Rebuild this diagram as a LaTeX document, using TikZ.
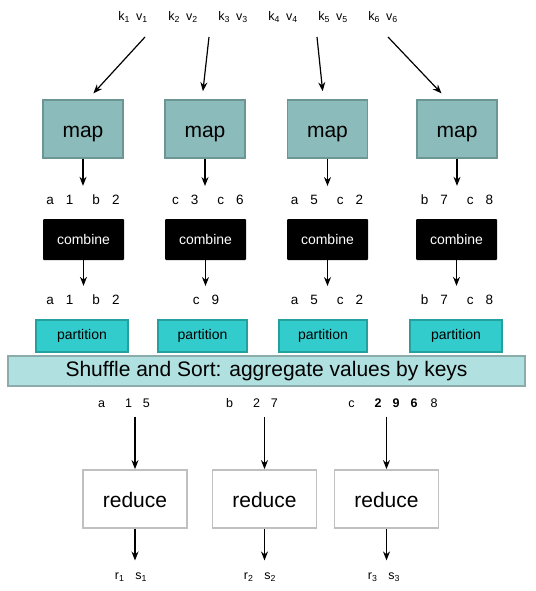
\documentclass[tikz,border=0pt]{standalone}
\usepackage{fontspec}
\setmainfont{Liberation Sans}
\usepackage{tikz}
\usetikzlibrary{arrows.meta, positioning}
\definecolor{mapfill}{RGB}{139, 187, 186}
\definecolor{mapline}{RGB}{108, 150, 148}
\definecolor{partfill}{RGB}{51, 204, 204}
\definecolor{partline}{RGB}{36, 160, 158}
\definecolor{shufill}{RGB}{176, 224, 224}
\definecolor{shuline}{RGB}{140, 172, 172}
\definecolor{redline}{RGB}{192, 192, 192}

\newcommand{\kvpair}[2]{#1\hspace{12pt}#2}

\begin{document}
\begin{tikzpicture}[
    x=1pt, y=-1pt,
    mapbox/.style={rectangle, draw=mapline, line width=1.6pt, fill=mapfill,
                   minimum width=80pt, minimum height=58pt, text height=16pt, text depth=0pt,
                   font=\fontsize{21}{24}\selectfont},
    combox/.style={rectangle, fill=black, rounded corners=1pt, text=white,
                   minimum width=81pt, minimum height=41pt, font=\fontsize{14}{16}\selectfont},
    partbox/.style={rectangle, draw=partline, line width=1.6pt, fill=partfill,
                    minimum width=90pt, minimum height=32pt, font=\fontsize{14}{16}\selectfont},
    redbox/.style={rectangle, draw=redline, line width=1.8pt, fill=white,
                   minimum width=104pt, minimum height=58pt, text height=16pt, text depth=0pt,
                   font=\fontsize{21}{24}\selectfont},
    lbl/.style={inner sep=2pt, font=\fontsize{12.5}{14}\selectfont},
    pairlbl/.style={inner sep=2pt, font=\fontsize{13.5}{15}\selectfont},
    arrow/.style={-{Stealth[length=9pt, width=7pt]}, line width=1.2pt}
]
\useasboundingbox (0,0) rectangle (535,591);

% Input pairs
\foreach \i in {1,...,6}
  \node[lbl] (kv\i) at ({83+50*\i},17) {k\textsubscript{\i}\hspace{6pt}v\textsubscript{\i}};
\coordinate (in1) at (145,37);
\coordinate (in2) at (209,37);
\coordinate (in3) at (317,37);
\coordinate (in4) at (388,37);

% Map tasks
\node[mapbox] (map1) at (83,129) {map};
\node[mapbox] (map2) at (205,129) {map};
\node[mapbox] (map3) at (327.5,129) {map};
\node[mapbox] (map4) at (457,129) {map};

\draw[arrow, shorten >=8pt] (in1) -- ([xshift=5pt]map1.north);
\draw[arrow, shorten >=8pt] (in2) -- ([xshift=-3pt]map2.north);
\draw[arrow, shorten >=8pt] (in3) -- ([xshift=-4pt]map3.north);
\draw[arrow, shorten >=8pt] (in4) -- ([xshift=-10pt]map4.north);

% Map output
\node[pairlbl] (mo1) at (83,200) {\kvpair{a}{1}\hspace{19pt}\kvpair{b}{2}};
\node[pairlbl] (mo2) at (208,200) {\kvpair{c}{3}\hspace{19pt}\kvpair{c}{6}};
\node[pairlbl] (mo3) at (327,200) {\kvpair{a}{5}\hspace{19pt}\kvpair{c}{2}};
\node[pairlbl] (mo4) at (457,200) {\kvpair{b}{7}\hspace{19pt}\kvpair{c}{8}};

% Combiners
\node[combox] (comb1) at (83.5,239.5) {combine};
\node[combox] (comb2) at (205.5,239.5) {combine};
\node[combox] (comb3) at (327.5,239.5) {combine};
\node[combox] (comb4) at (456.5,239.5) {combine};

% Combiner output
\node[pairlbl] (co1) at (83,300) {\kvpair{a}{1}\hspace{19pt}\kvpair{b}{2}};
\node[pairlbl] (co2) at (206,300) {\kvpair{c}{9}};
\node[pairlbl] (co3) at (327,300) {\kvpair{a}{5}\hspace{19pt}\kvpair{c}{2}};
\node[pairlbl] (co4) at (457,300) {\kvpair{b}{7}\hspace{19pt}\kvpair{c}{8}};

\foreach \i in {1,...,4} {
  \draw[arrow, shorten >=7pt] (map\i.south) -- (map\i.south |- mo\i.north);
  \draw[arrow, shorten >=7pt] (comb\i.south) -- (comb\i.south |- co\i.north);
}

% Partitioners
\node[partbox, minimum width=92pt] (part1) at (82,336) {partition};
\node[partbox, minimum width=89pt] (part2) at (202.5,336) {partition};
\node[partbox, minimum width=88pt] (part3) at (323,336) {partition};
\node[partbox, minimum width=92pt] (part4) at (456,336) {partition};

% Shuffle and sort
\node[rectangle, draw=shuline, line width=1.6pt, fill=shufill,
      minimum width=517pt, minimum height=30pt, font=\fontsize{21}{24}\selectfont]
      (shuffle) at (266.5,371) {Shuffle and Sort: aggregate values by keys};

% Grouped values
\node[lbl] (grp1) at (124,403) {a\hspace{20pt}1\hspace{11pt}5};
\node[lbl] (grp2) at (252,403) {b\hspace{20pt}2\hspace{11pt}7};
\node[lbl] (grp3) at (393,403) {c\hspace{20pt}\textbf{2}\hspace{11pt}\textbf{9}\hspace{11pt}\textbf{6}\hspace{13pt}8};

% Reducers
\node[redbox] (red1) at (135,499) {reduce};
\node[redbox] (red2) at (264.5,499) {reduce};
\node[redbox] (red3) at (386.5,499) {reduce};

% Final output
\node[lbl] (res1) at (131,577) {r\textsubscript{1}\hspace{11pt}s\textsubscript{1}};
\node[lbl] (res2) at (260,577) {r\textsubscript{2}\hspace{11pt}s\textsubscript{2}};
\node[lbl] (res3) at (384,577) {r\textsubscript{3}\hspace{11pt}s\textsubscript{3}};

\foreach \i in {1,2,3} {
  \draw[arrow, shorten <=7pt] (red\i.north |- grp\i.south) -- (red\i.north);
  \draw[arrow, shorten >=10pt] (red\i.south) -- (red\i.south |- res\i.north);
}

\end{tikzpicture}
\end{document}
